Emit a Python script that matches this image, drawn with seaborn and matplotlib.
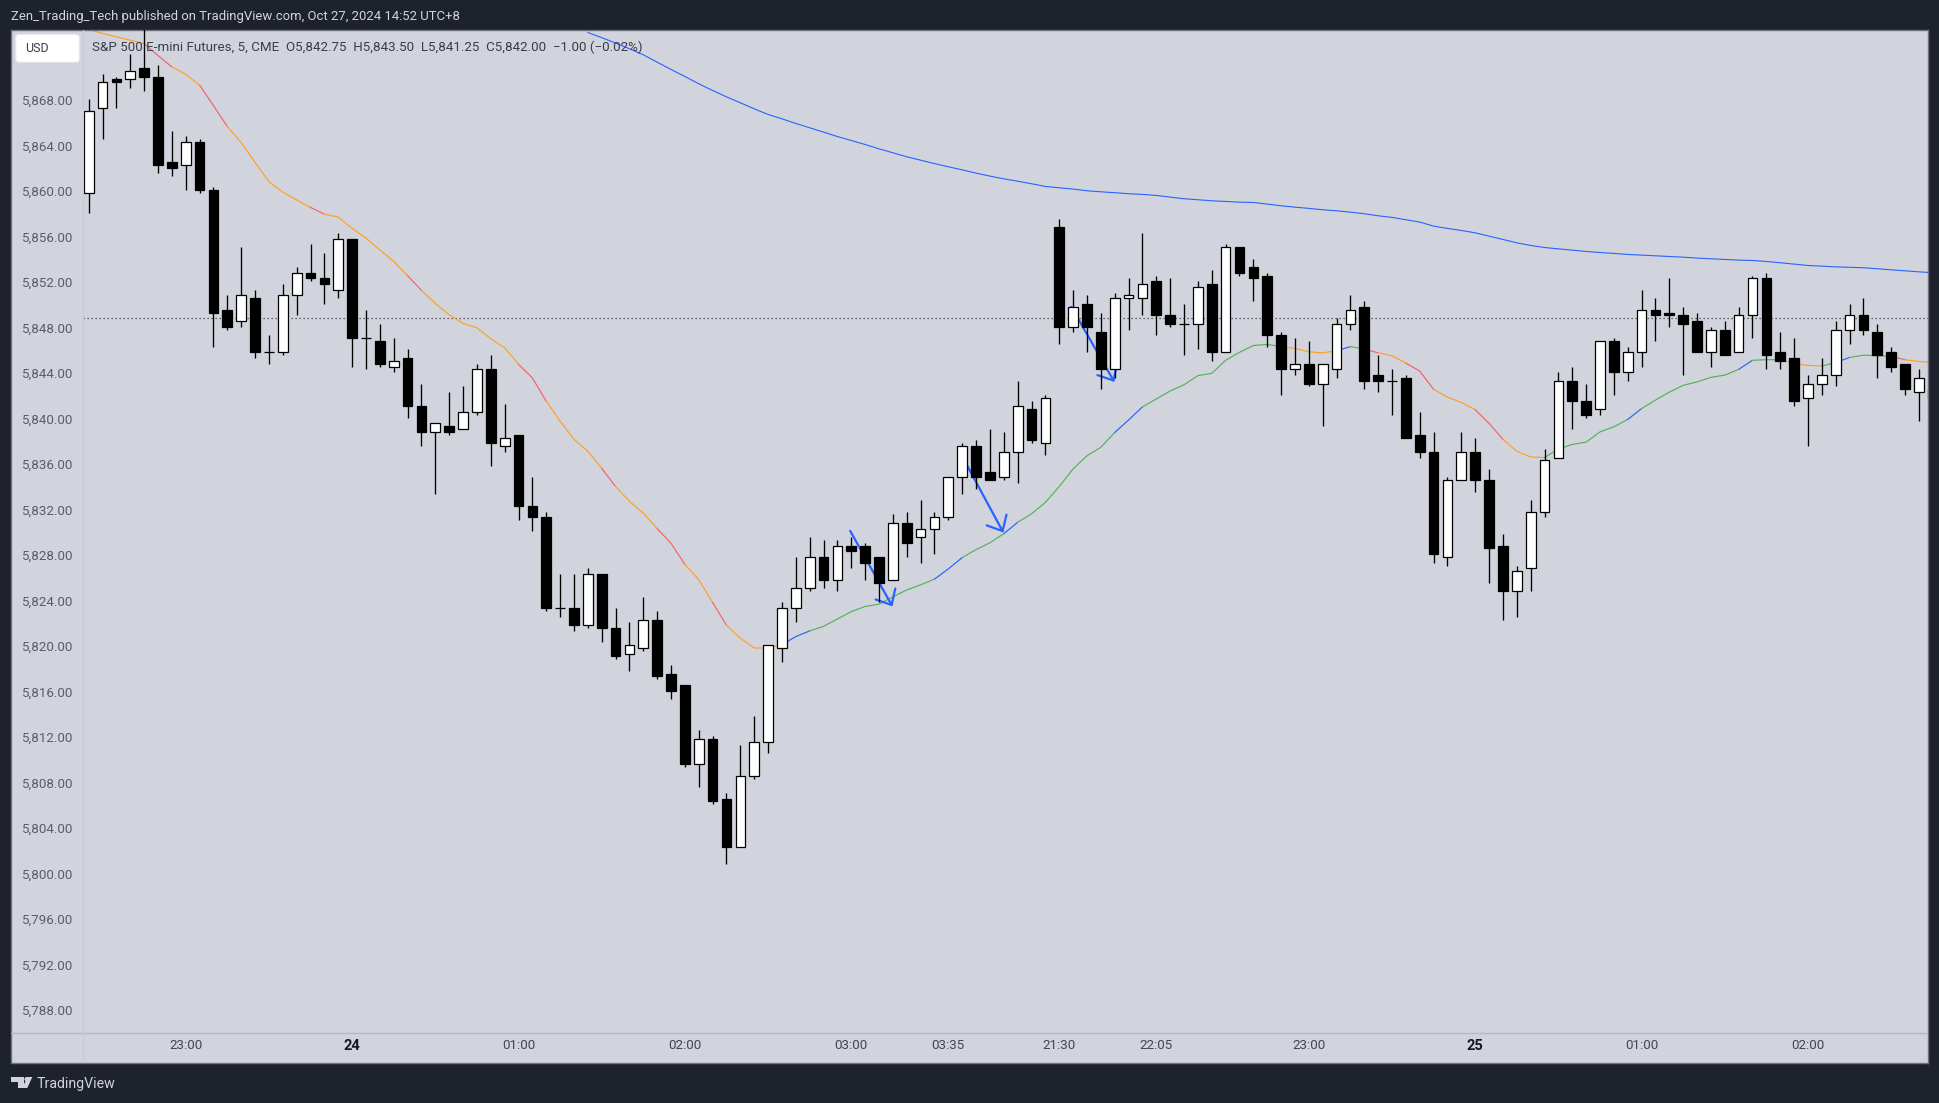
import matplotlib
matplotlib.use('Agg')
import matplotlib.pyplot as plt
import seaborn as sns
import pandas as pd
from matplotlib.patches import FancyBboxPatch, Polygon, Circle
from matplotlib.transforms import IdentityTransform, ScaledTranslation

# candles, one value per bar
opens = [5860, 5867.5, 5870, 5870, 5871, 5870.25, 5862.75, 5862.5, 5864.5, 5860.25,
         5849.75, 5848.75, 5850.75, 5846, 5846, 5851, 5853, 5852.5, 5851.5, 5856,
         5847.25, 5847, 5844.75, 5845.5, 5841.25, 5839, 5839.5, 5839.25, 5840.75, 5844.5,
         5837.75, 5838.75, 5832.5, 5831.5, 5823.5, 5823.5, 5822, 5826.5, 5821.75, 5819.5,
         5820, 5822.5, 5817.75, 5816.75, 5809.75, 5812, 5806.75, 5802.5, 5808.75, 5811.75,
         5820, 5823.5, 5825.25, 5828, 5826, 5829, 5829, 5828, 5826, 5831,
         5829.75, 5830.5, 5831.5, 5835, 5837.75, 5835.5, 5835, 5837.25, 5841, 5838,
         5857, 5848.25, 5850.25, 5847.75, 5844.5, 5850.75, 5850.75, 5852.25, 5849.25, 5848.5,
         5848.5, 5852, 5846, 5855.25, 5853.5, 5852.75, 5847.5, 5844.5, 5845, 5843.25,
         5844.5, 5848.5, 5850, 5844, 5843.5, 5843.75, 5838.75, 5837.25, 5828, 5834.75,
         5837.25, 5834.75, 5829, 5825, 5827, 5832, 5836.75, 5843.5, 5841.75, 5841,
         5847, 5844.25, 5846, 5849.75, 5849.5, 5849.25, 5848.75, 5846, 5848, 5846,
         5849.25, 5852.5, 5846, 5845.5, 5842, 5843.25, 5844, 5848, 5849.25, 5847.75,
         5846, 5845, 5842.5, 5842.75]
highs = [5868.25, 5870.5, 5870.25, 5872.25, 5874.5, 5871.25, 5865.5, 5865, 5864.75, 5860.5,
         5851, 5855.25, 5851.5, 5847.5, 5852, 5853.5, 5855.5, 5854.75, 5856.5, 5856,
         5849.75, 5848.5, 5847.25, 5846.25, 5843.25, 5839.75, 5842.5, 5843, 5845, 5845.75,
         5841.5, 5838.75, 5835, 5832, 5826.5, 5826.5, 5827, 5826.5, 5823.5, 5822.25,
         5824.5, 5823.25, 5818.5, 5816.75, 5812.75, 5812.25, 5807.25, 5811.5, 5814, 5820.25,
         5824, 5828, 5829.75, 5829.5, 5829.5, 5829.75, 5829.25, 5828, 5831.75, 5832,
         5833, 5832, 5835, 5838, 5838.25, 5839.25, 5839, 5843.5, 5841.75, 5842.25,
         5857.75, 5851.5, 5851, 5849.5, 5851.25, 5852.5, 5856.5, 5852.75, 5852.5, 5850.25,
         5852.25, 5853.25, 5855.5, 5855.25, 5854.25, 5853, 5847.75, 5847.25, 5847, 5845,
         5849, 5851, 5850.5, 5845.75, 5844.5, 5844, 5840.75, 5839, 5835, 5839,
         5838.5, 5835.75, 5830, 5827.25, 5833, 5837.5, 5844.25, 5844.75, 5843.25, 5847,
         5847.25, 5846.5, 5851.5, 5850.75, 5852.5, 5850, 5849.5, 5848.25, 5848.75, 5850,
         5852.75, 5853, 5847.75, 5847.25, 5844, 5845.5, 5848.75, 5850.25, 5850.75, 5848.5,
         5846.5, 5845, 5844.5, 5843.5]
lows = [5858.25, 5864.75, 5867.5, 5869.25, 5869, 5861.75, 5861.5, 5860.25, 5860, 5846.5,
        5848, 5848.25, 5845.5, 5845, 5845.75, 5849.25, 5852.25, 5850.25, 5850.75, 5844.75,
        5844.5, 5844.75, 5844.25, 5840.25, 5837.75, 5833.5, 5838.75, 5839.25, 5840.5, 5836,
        5837.25, 5831.25, 5830.25, 5823.25, 5822.75, 5821.5, 5821.75, 5820.5, 5819, 5818,
        5819.75, 5817.25, 5815.5, 5809.5, 5807.75, 5806.25, 5801, 5802.5, 5808.5, 5810.75,
        5818.75, 5822.25, 5825, 5825.25, 5825, 5827, 5826, 5824, 5826, 5828,
        5827.5, 5828.25, 5831.25, 5833.5, 5834, 5834.75, 5834.75, 5834.5, 5838, 5837,
        5846.75, 5847.75, 5846, 5842.75, 5843.75, 5848, 5849.25, 5847.5, 5848.25, 5845.75,
        5846.25, 5845.25, 5846, 5852.75, 5850.5, 5846.5, 5842.25, 5844, 5843, 5839.5,
        5843.75, 5848, 5842.75, 5842.5, 5840.5, 5838.5, 5836.75, 5827.5, 5827.25, 5834.75,
        5833.75, 5825.75, 5822.5, 5822.75, 5825, 5831.5, 5836.75, 5839.25, 5840.25, 5840.5,
        5842.25, 5843.5, 5844.75, 5847, 5848.25, 5844, 5846, 5844.75, 5845.75, 5846,
        5847.25, 5844.5, 5844.5, 5841.25, 5837.75, 5842.25, 5843, 5846.75, 5847.5, 5843.75,
        5844.25, 5842.25, 5840, 5841.25]
closes = [5867.25, 5869.75, 5869.75, 5870.75, 5870.25, 5862.5, 5862.25, 5864.5, 5860.25, 5849.5,
          5848.25, 5851, 5846, 5846, 5851, 5853, 5852.5, 5852, 5856, 5847.25,
          5847.25, 5845, 5845.25, 5841.25, 5839, 5839.75, 5839, 5840.75, 5844.5, 5838,
          5838.5, 5832.5, 5831.5, 5823.5, 5823.5, 5822, 5826.5, 5821.75, 5819.25, 5820.25,
          5822.5, 5817.5, 5816.25, 5809.75, 5812, 5806.5, 5802.5, 5808.75, 5811.75, 5820.25,
          5823.5, 5825.25, 5828, 5826, 5829, 5828.5, 5827.5, 5825.75, 5831, 5829.25,
          5830.5, 5831.5, 5835, 5837.75, 5835, 5834.75, 5837.25, 5841.25, 5838.25, 5842,
          5848.25, 5850, 5848.25, 5844.5, 5850.75, 5851, 5852, 5849.25, 5848.5, 5848.5,
          5851.75, 5846, 5855.25, 5853, 5852.5, 5847.5, 5844.5, 5845, 5843.25, 5845,
          5848.5, 5849.75, 5843.5, 5843.5, 5843.5, 5838.5, 5837.25, 5828.25, 5834.75, 5837.25,
          5834.75, 5828.75, 5825, 5826.75, 5832, 5836.5, 5843.5, 5841.75, 5840.5, 5847,
          5844.25, 5846, 5849.75, 5849.25, 5849.25, 5848.5, 5846, 5848, 5845.75, 5849.25,
          5852.5, 5845.75, 5845.25, 5841.75, 5843.25, 5844, 5848, 5849.25, 5848, 5845.75,
          5844.75, 5842.75, 5843.75, 5842]

# fast moving average, one value per bar from bar 0
fast_ma = [5874.4, 5874.05, 5873.75, 5873.45, 5873.15, 5872.1, 5871.1, 5870.45, 5869.5, 5867.7,
           5865.85, 5864.45, 5862.7, 5861, 5860.1, 5859.4, 5858.75, 5858.15, 5857.9, 5856.9,
           5856.05, 5855, 5854, 5852.75, 5851.45, 5850.3, 5849.3, 5848.55, 5848.15, 5847.2,
           5846.4, 5844.95, 5843.75, 5841.7, 5839.95, 5838.35, 5837.3, 5835.8, 5834.2, 5832.9,
           5831.85, 5830.5, 5829.2, 5827.35, 5826, 5824, 5822, 5820.85, 5820, 5820,
           5820.3, 5821, 5821.5, 5821.9, 5822.55, 5823.2, 5823.65, 5823.85, 5824.5, 5825.1,
           5825.55, 5826.05, 5826.95, 5827.95, 5828.65, 5829.25, 5830.05, 5831.05, 5831.8, 5832.8,
           5834.2, 5835.75, 5836.9, 5837.65, 5838.95, 5840.05, 5841.2, 5841.9, 5842.6, 5843.15,
           5843.95, 5844.15, 5845.3, 5846, 5846.6, 5846.7, 5846.5, 5846.35, 5846.05, 5845.95,
           5846.15, 5846.5, 5846.3, 5845.95, 5845.7, 5845.05, 5844.35, 5842.75, 5842.05, 5841.6,
           5840.95, 5839.75, 5838.35, 5837.3, 5836.8, 5836.75, 5837.5, 5837.9, 5838.1, 5839,
           5839.45, 5840.1, 5841.05, 5841.8, 5842.5, 5843.1, 5843.4, 5843.8, 5844, 5844.5,
           5845.3, 5845.35, 5845.35, 5845, 5844.85, 5844.8, 5845.1, 5845.55, 5845.75, 5845.7,
           5845.65, 5845.35, 5845.2, 5845.1]

# colour state of the fast average, as runs of segments
run_states = ['fall', 'drop', 'fall', 'drop', 'fall', 'drop', 'fall', 'drop', 'fall', 'drop',
              'fall', 'drop', 'fall', 'drop', 'fall', 'drop', 'fall', 'lift', 'rise', 'lift',
              'rise', 'lift', 'rise', 'lift', 'rise', 'fall', 'lift', 'rise', 'drop', 'fall',
              'drop', 'fall', 'drop', 'fall', 'rise', 'lift', 'rise', 'lift', 'rise', 'fall',
              'rise', 'lift', 'rise', 'drop', 'fall']
run_lengths = [4, 2, 2, 2, 6, 1, 6, 1, 7, 2,
               4, 1, 3, 2, 2, 1, 4, 2, 9, 2,
               3, 1, 7, 2, 10, 4, 1, 1, 1, 2,
               2, 3, 2, 3, 6, 1, 7, 1, 2, 3,
               1, 1, 3, 1, 2]

# slow moving average starts at bar 36
slow_start = 36
slow_ma = [5874.13, 5873.68, 5873.2, 5872.7, 5872.17, 5871.52, 5870.88, 5870.26, 5869.62, 5869.03,
           5868.47, 5867.95, 5867.42, 5866.92, 5866.54, 5866.13, 5865.75, 5865.37, 5864.98, 5864.63,
           5864.28, 5863.9, 5863.55, 5863.2, 5862.9, 5862.6, 5862.32, 5862.05, 5861.76, 5861.5,
           5861.26, 5861.05, 5860.83, 5860.59, 5860.47, 5860.36, 5860.21, 5860.12, 5860.04, 5859.95,
           5859.89, 5859.8, 5859.65, 5859.51, 5859.42, 5859.33, 5859.27, 5859.21, 5859.18, 5859.04,
           5858.89, 5858.77, 5858.66, 5858.54, 5858.45, 5858.33, 5858.19, 5858.01, 5857.87, 5857.66,
           5857.46, 5857.1, 5856.9, 5856.72, 5856.51, 5856.22, 5855.93, 5855.63, 5855.4, 5855.22,
           5855.1, 5854.99, 5854.87, 5854.78, 5854.7, 5854.61, 5854.55, 5854.49, 5854.43, 5854.37,
           5854.29, 5854.23, 5854.17, 5854.11, 5854.08, 5853.99, 5853.88, 5853.76, 5853.64, 5853.58,
           5853.52, 5853.48, 5853.44, 5853.35, 5853.26, 5853.17, 5853.08, 5853]

# drawn arrows: bar and price of start and tip
arrow_start_bar = [54.92, 63.33, 70.87]
arrow_start_price = [5830.3, 5836.1, 5850]
arrow_tip_bar = [57.97, 65.97, 73.97]
arrow_tip_price = [5823.65, 5830.15, 5843.4]

last_close_line = 5849
price_ticks = list(range(5788, 5869, 4))
time_bars = [7, 19, 31, 43, 55, 62, 70, 77, 88, 100, 112, 124]
time_labels = ['23:00', '24', '01:00', '02:00', '03:00', '03:35', '21:30', '22:05', '23:00', '25', '01:00', '02:00']

header = 'Zen_Trading_Tech published on TradingView.com, Oct 27, 2024 14:52 UTC+8'
legend = 'S&P 500 E-mini Futures, 5, CME  O5,842.75  H5,843.50  L5,841.25  C5,842.00  \u22121.00 (\u22120.02%)'

W, H = 1940, 1103
dark = '#1e222d'
pane = '#d1d4dc'
state_colors = {'fall': '#ff9f26', 'drop': '#f7606c', 'rise': '#55b159', 'lift': '#2962ff'}

sns.set_theme(style='dark', rc={'axes.facecolor': pane, 'figure.facecolor': dark})
plt.rcParams['font.family'] = ['Roboto', 'DejaVu Sans']

fig = plt.figure(figsize=(W / 100, H / 100), dpi=100)
ax = fig.add_axes([11.5 / W, (H - 1063.3) / H, 1917 / W, 1033.3 / H])

candles = pd.DataFrame({'bar': range(len(opens)), 'open': opens, 'high': highs, 'low': lows, 'close': closes})
candles['fast'] = fast_ma
slow = pd.DataFrame({'bar': range(slow_start, slow_start + len(slow_ma)), 'slow': slow_ma})

# dotted last price line
ax.hlines(last_close_line, -0.43, 133, colors='#3c3f49', linestyles=(0, (1, 2.2)), lw=0.9, zorder=1)

# moving averages sit under the candles
sns.lineplot(data=slow, x='bar', y='slow', color=state_colors['lift'], lw=0.8, ax=ax, zorder=2)
seg = 0
for state, n in zip(run_states, run_lengths):
    part = candles.iloc[seg:seg + n + 1]
    sns.lineplot(data=part, x='bar', y='fast', color=state_colors[state], lw=0.85, ax=ax, zorder=2)
    seg += n

# hand drawn arrows
for i in range(len(arrow_start_bar)):
    ax.annotate('', xy=(arrow_tip_bar[i], arrow_tip_price[i]), xytext=(arrow_start_bar[i], arrow_start_price[i]),
                arrowprops=dict(arrowstyle='->,head_length=0.65,head_width=0.58', color='#2962ff', lw=1.6,
                                shrinkA=0, shrinkB=0, mutation_scale=14), zorder=2.5)

# candles
ups = candles['close'] >= candles['open']
ax.vlines(candles['bar'], candles['low'], candles['high'], colors='black', lw=0.95, zorder=3)
ax.bar(candles['bar'], (candles['close'] - candles['open']).abs(), width=0.7,
       bottom=candles[['open', 'close']].min(axis=1),
       color=['white' if u else 'black' for u in ups], edgecolor='black', linewidth=0.9, zorder=4)

ax.set_xlim((11.5 - 88.7) / 13.865, (1928.5 - 88.7) / 13.865)
ax.set_ylim(5783.47, 5874.35)
ax.set_xlabel('')
ax.set_ylabel('')

# price scale and time scale live inside the axes, the way the platform shows them
ax.set_yticks(price_ticks)
ax.set_yticklabels([f'{p:,.2f}' for p in price_ticks])
ax.tick_params(axis='y', direction='in', length=0, pad=-43.6, labelsize=9.6, labelcolor='#5a5d68')
for lab in ax.get_yticklabels():
    lab.set_transform(lab.get_transform() + ScaledTranslation(0, 2.0 / 100, fig.dpi_scale_trans))
ax.set_xticks(time_bars)
ax.set_xticklabels(time_labels)
ax.tick_params(axis='x', direction='in', length=0, pad=-17.2, labelsize=9.6, labelcolor='#434651')
for lab in ax.get_xticklabels():
    if lab.get_text() in ('24', '25'):
        lab.set_fontweight('bold')
        lab.set_fontsize(10.5)
        lab.set_color('#131722')

for s in ax.spines.values():
    s.set_color('#6f727d')
    s.set_linewidth(1.0)

# separators of the two scales
ax.plot([0, 1], [0.029, 0.029], transform=ax.transAxes, color='#b6b9c3', lw=1.0, zorder=5)
ax.plot([0.0371, 0.0371], [0, 1], transform=ax.transAxes, color='#c7cad3', lw=0.8, zorder=5)

# header, legend and USD button
fig.text(11 / W, 1 - 16.7 / H, header, color='#d1d4dc', fontsize=9.45, va='center', ha='left')
fig.text(92 / W, 1 - 47.7 / H, legend, color='#3b3e48', fontsize=9.68, va='center', ha='left')
fig.add_artist(FancyBboxPatch((15.7, H - 62.3), 63.6, 28, boxstyle='round,pad=0,rounding_size=3',
                              fc='white', ec='#e6e7ec', lw=0.8, transform=IdentityTransform()))
fig.text(25 / W, 1 - 48.7 / H, 'USD', color='#3b3e48', fontsize=9.0, va='center', ha='left')

# TradingView logo at the bottom
logo = '#d1d4dc'
fig.add_artist(Polygon([(11, H - 1077), (24, H - 1077), (24, H - 1088), (17.7, H - 1088), (17.7, H - 1081.5), (11, H - 1081.5)],
                       closed=True, fc=logo, ec='none', transform=IdentityTransform()))
fig.add_artist(Circle((26.6, H - 1079.2), 2.2, fc=logo, ec='none', transform=IdentityTransform()))
fig.add_artist(Polygon([(27.5, H - 1077), (32.3, H - 1077), (27.3, H - 1088), (22.2, H - 1088)],
                       closed=True, fc=logo, ec='none', transform=IdentityTransform()))
fig.text(37 / W, 1 - 1084 / H, 'TradingView', color='#d1d4dc', fontsize=10.2, va='center', ha='left')

fig.savefig('out.png', dpi=100, facecolor=dark)
